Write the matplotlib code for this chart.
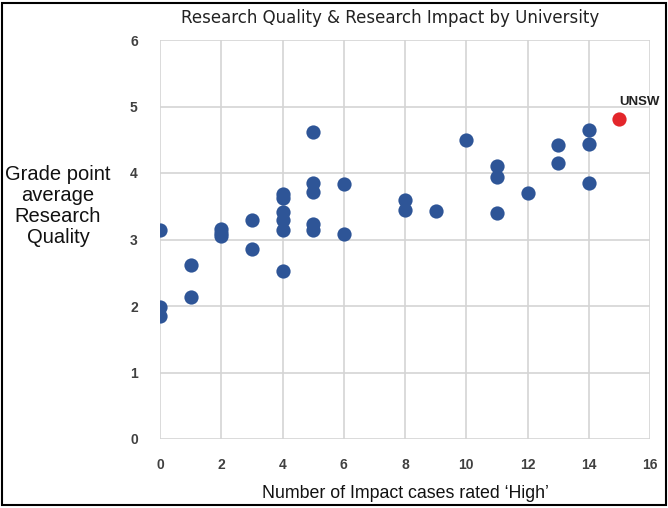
import matplotlib
matplotlib.use("Agg")
import matplotlib.pyplot as plt
from matplotlib.patches import Rectangle

# -----------------------
# data
impact_high = [0, 0, 0, 1, 1, 2, 2, 2, 3, 3,
               4, 4, 4, 4, 4, 4, 5, 5, 5, 5, 5,
               6, 6, 8, 8, 9, 10, 11, 11, 11, 12,
               13, 13, 14, 14, 14]
grade_point = [3.15, 1.99, 1.85, 2.62, 2.14, 3.16, 3.10, 3.05, 3.30, 2.86,
               3.68, 3.63, 3.41, 3.30, 3.15, 2.53, 4.62, 3.85, 3.72, 3.24, 3.15,
               3.84, 3.08, 3.60, 3.45, 3.43, 4.50, 4.10, 3.94, 3.40, 3.70,
               4.42, 4.15, 4.64, 4.43, 3.85]
unsw_x = 15
unsw_y = 4.81
x_ticks = [0, 2, 4, 6, 8, 10, 12, 14, 16]
y_ticks = [0, 1, 2, 3, 4, 5, 6]
# -----------------------

fig = plt.figure(figsize=(6.68, 5.08), dpi=100)
ax = fig.add_axes([160 / 668, 1 - 439 / 508, 490 / 668, 399 / 508])

ax.scatter(impact_high, grade_point, s=105, color='#2E5597', zorder=3, linewidths=0)
ax.scatter([unsw_x], [unsw_y], s=105, color='#E3262B', zorder=3, linewidths=0)
ax.annotate('UNSW', (unsw_x, unsw_y), xytext=(0, 8), textcoords='offset points',
            fontsize=9.5, fontweight='bold', color='#222222', ha='left', va='bottom',
            family='Liberation Sans')

ax.set_xlim(0, 16)
ax.set_ylim(0, 6)
ax.set_xticks(x_ticks)
ax.set_yticks(y_ticks)
ax.grid(True, color='#d4d4d4', linewidth=1.2, zorder=0)
for s in ax.spines.values():
    s.set_visible(False)
ax.tick_params(length=0, labelsize=10, labelcolor='#404040', pad=14)
ax.tick_params(axis='y', pad=16)
for lab in ax.get_xticklabels() + ax.get_yticklabels():
    lab.set_fontweight('bold')
    lab.set_family('Liberation Sans')

ax.set_xlabel("Number of Impact cases rated \u2018High\u2019", fontsize=12.8,
              color='#111111', family='Liberation Sans', labelpad=9)

fig.text(58 / 668, 1 - 206 / 508, 'Grade point\naverage\nResearch\nQuality',
         ha='center', va='center', fontsize=14.5, color='#111111',
         family='Liberation Sans', linespacing=1.15)

fig.text(390 / 668, 1 - 18 / 508, 'Research Quality & Research Impact by University',
         ha='center', va='center', fontsize=12, color='#222222',
         family='DejaVu Sans')

fig.patches.append(Rectangle((0.003, 0.005), 0.994, 0.99, transform=fig.transFigure,
                             fill=False, edgecolor='black', linewidth=1.5))

fig.savefig('out.png', dpi=100)
